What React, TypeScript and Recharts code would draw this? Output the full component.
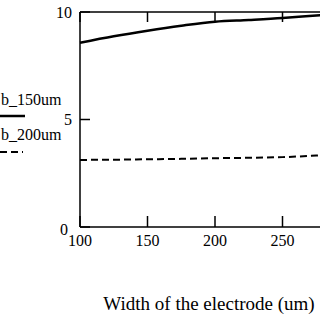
import { LineChart, Line, XAxis, YAxis, Customized } from 'recharts'

// electrode width (um)
const widths = [100, 125, 150, 175, 200, 225, 250, 275, 300]
// solid curve
const cb150 = [8.57, 8.87, 9.13, 9.36, 9.55, 9.63, 9.72, 9.84, 9.95]
// dashed curve
const cb200 = [3.12, 3.13, 3.15, 3.17, 3.2, 3.22, 3.25, 3.32, 3.4]

const xTicks = [100, 150, 200, 250, 300]
const yTicks = [0, 5, 10]
const legendLabels = ['b_150um', 'b_200um']

const rows = widths.map((w, i) => ({ w, cb150: cb150[i], cb200: cb200[i] }))

const FONT = '"Liberation Serif", "Times New Roman", serif'

function LegendBlock() {
  return (
    <g fontFamily={FONT} fontSize={16} fill="#000">
      <text x={1} y={105}>{legendLabels[0]}</text>
      <line x1={0} x2={25} y1={116} y2={116} stroke="#000" strokeWidth={2.5} />
      <text x={1} y={140}>{legendLabels[1]}</text>
      <line x1={0} x2={23} y1={152} y2={152} stroke="#000" strokeWidth={2} strokeDasharray="7 4" />
    </g>
  )
}

// y tick label; the zero sits a little lower and further left, as in the source
function YTick(props: any) {
  const { x, y, payload } = props
  const isZero = payload.value === 0
  return (
    <text
      x={isZero ? x - 4 : x}
      y={isZero ? y + 2 : y}
      dy="0.355em"
      textAnchor="end"
      fontSize={16}
      fill="#000"
    >
      {payload.value}
    </text>
  )
}

export default function App() {
  return (
    <div
      style={{
        position: 'fixed',
        top: 0,
        left: 0,
        width: 320,
        height: 320,
        overflow: 'hidden',
        background: '#fff',
        fontFamily: FONT,
      }}
    >
      <LineChart width={360} height={320} data={rows} margin={{ top: 11, right: 10, bottom: 0, left: 0 }}>
        <XAxis
          dataKey="w"
          type="number"
          domain={[100, 300]}
          ticks={xTicks}
          height={93}
          tickSize={-11}
          tickMargin={19}
          stroke="#000"
          strokeWidth={1.5}
          tick={{ fontSize: 16, fill: '#000' }}
          label={{
            value: 'Width of the electrode (um)',
            position: 'insideBottom',
            offset: 10,
            dx: -6,
            fontSize: 19,
            fill: '#000',
          }}
        />
        <XAxis
          xAxisId="top"
          orientation="top"
          dataKey="w"
          type="number"
          domain={[100, 300]}
          ticks={xTicks}
          height={1}
          tickSize={-10}
          tickFormatter={() => ''}
          stroke="#000"
          strokeWidth={1.5}
        />
        <YAxis
          type="number"
          domain={[0, 10]}
          ticks={yTicks}
          width={80}
          tickSize={-10}
          tickMargin={18}
          stroke="#000"
          strokeWidth={1.5}
          tick={YTick}
        />
        <Line
          type="monotone"
          dataKey="cb150"
          stroke="#000"
          strokeWidth={2.5}
          dot={false}
          isAnimationActive={false}
        />
        <Line
          type="monotone"
          dataKey="cb200"
          stroke="#000"
          strokeWidth={2}
          strokeDasharray="7 4"
          dot={false}
          isAnimationActive={false}
        />
        <Customized component={LegendBlock} />
      </LineChart>
    </div>
  )
}
